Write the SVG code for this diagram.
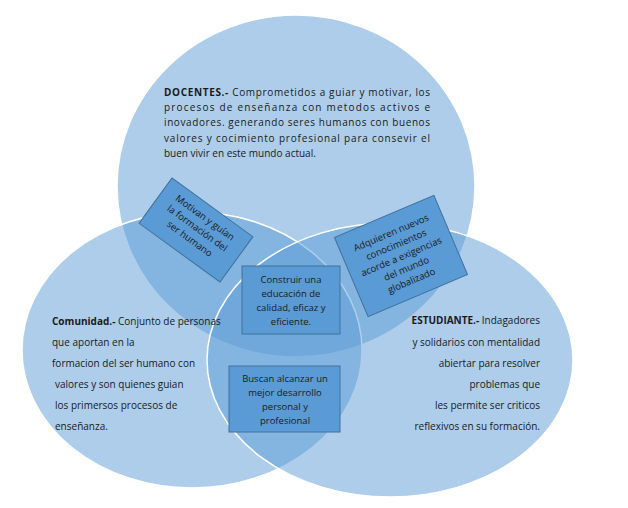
<svg xmlns="http://www.w3.org/2000/svg" width="628" height="508" viewBox="0 0 628 508">
<style>
.c{fill:#5b9bd5;fill-opacity:0.5;stroke:#fff;stroke-width:1.5}
.b{fill:#5b9bd5;stroke:#41719c;stroke-width:1}
text{font-family:"Open Sans","Liberation Sans",sans-serif;font-size:10px;fill:#1a1a1a}
.m{text-anchor:middle;font-size:9.5px}
.r{text-anchor:end}
</style>
<rect width="628" height="508" fill="#fff"/>
<g id="docentes"><ellipse class="c" cx="296" cy="186" rx="179" ry="171"/></g>
<g id="comunidad"><ellipse class="c" cx="192" cy="350" rx="170" ry="138"/></g>
<g id="estudiante"><ellipse class="c" cx="390" cy="360" rx="183" ry="137"/></g>
<g id="connectors"></g>
<g id="docentes-text">
<text x="164" y="96" textLength="266" lengthAdjust="spacing"><tspan font-weight="bold">DOCENTES.-</tspan> Comprometidos a guiar y motivar, los</text>
<text x="164" y="111" textLength="266" lengthAdjust="spacing">procesos de enseñanza con metodos activos e</text>
<text x="164" y="126" textLength="266" lengthAdjust="spacing">inovadores. generando seres humanos con buenos</text>
<text x="164" y="142" textLength="266" lengthAdjust="spacing">valores y cocimiento profesional  para consevir el</text>
<text x="164" y="157">buen vivir en este mundo actual.</text>
</g>
<g id="comunidad-text">
<text x="52" y="325"><tspan font-weight="bold">Comunidad.-</tspan> Conjunto de personas</text>
<text x="52" y="346">que aportan en la</text>
<text x="52" y="367">formacion del ser humano con</text>
<text x="55" y="388">valores  y son quienes guian</text>
<text x="55" y="409">los primersos procesos  de</text>
<text x="55" y="430">enseñanza.</text>
</g>
<g id="estudiante-text">
<text class="r" x="540" y="324"><tspan font-weight="bold">ESTUDIANTE.-</tspan> Indagadores</text>
<text class="r" x="540" y="346">y solidarios con mentalidad</text>
<text class="r" x="540" y="367">abiertar para resolver</text>
<text class="r" x="540" y="388">problemas  que</text>
<text class="r" x="540" y="409">les permite ser criticos</text>
<text class="r" x="540" y="430">reflexivos  en su formación.</text>
</g>
<g id="box-center">
<rect class="b" x="242" y="266" width="98" height="68"/>
<text class="m" x="291" y="283">Construir una</text>
<text class="m" x="291" y="297">educación de</text>
<text class="m" x="291" y="311">calidad, eficaz y</text>
<text class="m" x="291" y="325">eficiente.</text>
</g>
<g id="box-bottom">
<rect class="b" x="229" y="366" width="111" height="66"/>
<text class="m" x="285" y="382">Buscan alcanzar un</text>
<text class="m" x="285" y="396">mejor desarrollo</text>
<text class="m" x="285" y="410">personal y</text>
<text class="m" x="285" y="424">profesional</text>
</g>
<g id="box-left" transform="translate(196,230) rotate(36)">
<rect class="b" x="-50" y="-28" width="100" height="56"/>
<text class="m" x="0" y="-12">Motivan y guían</text>
<text class="m" x="0" y="1">la formación del</text>
<text class="m" x="0" y="14">ser humano</text>
</g>
<g id="box-right" transform="translate(401,256) rotate(-23)">
<rect class="b" x="-54" y="-43" width="108" height="86"/>
<text class="m" x="0" y="-22">Adquieren nuevos</text>
<text class="m" x="0" y="-9">conocimientos</text>
<text class="m" x="0" y="4">acorde a exigencias</text>
<text class="m" x="0" y="17">del mundo</text>
<text class="m" x="0" y="30">globalizado</text>
</g>
</svg>
